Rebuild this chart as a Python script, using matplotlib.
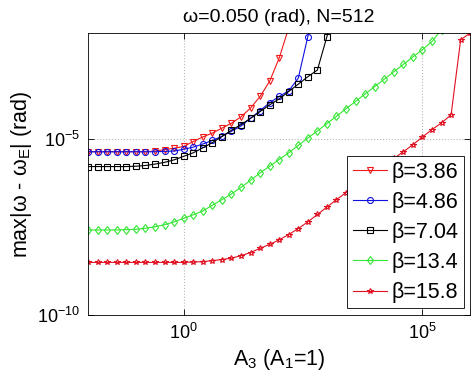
import numpy as np
import matplotlib
matplotlib.use("Agg")
import matplotlib.pyplot as plt

plt.rcParams['font.family'] = ['Liberation Sans', 'DejaVu Sans']
plt.rcParams['mathtext.fontset'] = 'custom'
plt.rcParams['mathtext.rm'] = 'Liberation Sans'
plt.rcParams['mathtext.it'] = 'Liberation Sans'
plt.rcParams['mathtext.default'] = 'regular'

# log10 of A3 (A1 = 1)
logx_b386 = [-2.0, -1.8, -1.6, -1.4, -1.2, -1.0, -0.8, -0.6, -0.4, -0.2, 0.0,
             0.2, 0.4, 0.6, 0.8, 1.0, 1.2, 1.4, 1.6, 1.8, 2.0, 2.2]
logy_b386 = [-5.37, -5.37, -5.37, -5.37, -5.37, -5.37, -5.37, -5.35, -5.31, -5.27, -5.22,
             -5.08, -4.95, -4.84, -4.70, -4.56, -4.38, -4.13, -3.80, -3.37, -2.71, -1.85]

logx_b486 = [-2.0, -1.8, -1.6, -1.4, -1.2, -1.0, -0.8, -0.6, -0.4, -0.2, 0.0,
             0.2, 0.4, 0.6, 0.8, 1.0, 1.2, 1.4, 1.6, 1.8, 2.0, 2.2, 2.4, 2.6, 2.8]
logy_b486 = [-5.37, -5.37, -5.37, -5.37, -5.37, -5.37, -5.37, -5.37, -5.36, -5.35, -5.30,
             -5.24, -5.15, -5.05, -4.93, -4.79, -4.64, -4.42, -4.20, -3.98, -3.80, -3.64,
             -3.28, -2.10, -1.00]

logx_b704 = [-2.0, -1.8, -1.6, -1.4, -1.2, -1.0, -0.8, -0.6, -0.4, -0.2, 0.0,
             0.2, 0.4, 0.6, 0.8, 1.0, 1.2, 1.4, 1.6, 1.8, 2.0, 2.2, 2.4, 2.6, 2.8,
             3.0, 3.2]
logy_b704 = [-5.79, -5.79, -5.79, -5.79, -5.79, -5.78, -5.76, -5.72, -5.67, -5.60, -5.50,
             -5.40, -5.26, -5.11, -4.94, -4.76, -4.60, -4.42, -4.23, -4.04, -3.87, -3.66,
             -3.45, -3.24, -3.05, -2.10, -1.00]

logx_b134 = [-2.0, -1.8, -1.6, -1.4, -1.2, -1.0, -0.8, -0.6, -0.4, -0.2, 0.0,
             0.2, 0.4, 0.6, 0.8, 1.0, 1.2, 1.4, 1.6, 1.8, 2.0, 2.2, 2.4, 2.6, 2.8,
             3.0, 3.2, 3.4, 3.6, 3.8, 4.0, 4.2, 4.4, 4.6, 4.8, 5.0, 5.2, 5.4]
logy_b134 = [-7.59, -7.59, -7.59, -7.59, -7.58, -7.57, -7.54, -7.50, -7.44, -7.36, -7.26,
             -7.16, -7.05, -6.89, -6.73, -6.57, -6.38, -6.18, -5.97, -5.78, -5.59, -5.40,
             -5.19, -4.98, -4.78, -4.57, -4.36, -4.15, -3.94, -3.73, -3.52, -3.31, -3.10,
             -2.89, -2.68, -2.47, -2.24, -1.90]

logx_b158 = [-2.0, -1.8, -1.6, -1.4, -1.2, -1.0, -0.8, -0.6, -0.4, -0.2, 0.0,
             0.2, 0.4, 0.6, 0.8, 1.0, 1.2, 1.4, 1.6, 1.8, 2.0, 2.2, 2.4, 2.6, 2.8,
             3.0, 3.2, 3.4, 3.6, 3.8, 4.0, 4.2, 4.4, 4.6, 4.8, 5.0, 5.2, 5.4, 5.6,
             5.8, 6.0]
logy_b158 = [-8.51, -8.51, -8.51, -8.51, -8.51, -8.51, -8.51, -8.51, -8.51, -8.51, -8.51,
             -8.50, -8.49, -8.46, -8.43, -8.39, -8.32, -8.23, -8.11, -8.00, -7.87, -7.72,
             -7.55, -7.36, -7.15, -6.94, -6.73, -6.53, -6.34, -6.15, -5.95, -5.76, -5.56,
             -5.37, -5.17, -4.95, -4.74, -4.55, -4.32, -2.19, -2.00]

series = [
    (logx_b386, logy_b386, 'β=3.86', '#f01818', 'v'),
    (logx_b486, logy_b486, 'β=4.86', '#1010e0', 'o'),
    (logx_b704, logy_b704, 'β=7.04', 'black', 's'),
    (logx_b134, logy_b134, 'β=13.4', '#33e633', 'd'),
    (logx_b158, logy_b158, 'β=15.8', '#e01020', '*'),
]

fig = plt.figure(figsize=(4.74, 3.84), dpi=100)
ax = fig.add_axes([0.186, 0.18, 0.806, 0.734])

for lx, ly, lab, col, mk in series:
    ax.plot(10 ** np.array(lx), 10 ** np.array(ly), color=col, marker=mk,
            markersize=4.3, markerfacecolor='none', markeredgewidth=0.8,
            linewidth=0.8, label=lab)

ax.set_xscale('log')
ax.set_yscale('log')
ax.set_xlim(1e-2, 1e6)
ax.set_ylim(1e-10, 1e-2)
ax.set_xticks([1, 1e5])
ax.set_yticks([1e-10, 1e-5])
ax.minorticks_off()
ax.tick_params(which='both', direction='in', top=True, right=True,
               length=4, width=0.6, labelsize=13, pad=6)
ax.grid(True, linestyle=':', color='#b8b8b8', linewidth=0.8)
for sp in ax.spines.values():
    sp.set_linewidth(0.6)

ax.set_title('ω=0.050 (rad), N=512', fontsize=14, pad=8)
ax.set_xlabel(r'A$_3$ (A$_1$=1)', fontsize=15.5, labelpad=3)
ax.set_ylabel(r'max|ω - ω$_E$| (rad)', fontsize=15.5, labelpad=2)

leg = ax.legend(loc='lower right', fontsize=15.5, handlelength=1.6,
                handletextpad=0.2, borderpad=0.25, labelspacing=0.42,
                borderaxespad=0.3, fancybox=False, framealpha=1, edgecolor='black')
leg.get_frame().set_linewidth(0.6)

fig.savefig('out.png', dpi=100)
